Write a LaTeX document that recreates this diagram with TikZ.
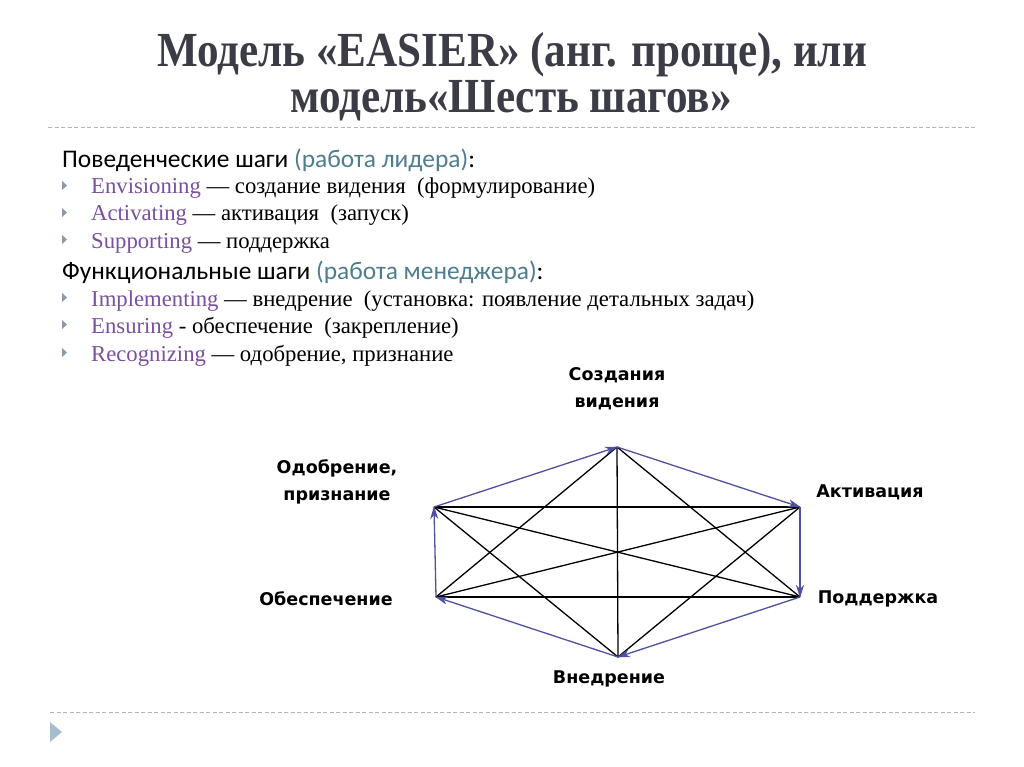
\documentclass[tikz,border=0pt]{standalone}
\usepackage{fontspec}
\usetikzlibrary{arrows.meta}
\setmainfont{Liberation Serif}
\newfontfamily\titlefont[FakeStretch=0.88]{Liberation Serif}
\newfontfamily\hdrfont{Carlito}
\newfontfamily\lblfont{DejaVu Sans}
\definecolor{titlecol}{HTML}{3C3C46}
\definecolor{engcol}{HTML}{7A50A0}
\definecolor{parcol}{HTML}{4E7D8E}
\definecolor{bulcol}{HTML}{8A9AAA}
\definecolor{dashcol}{HTML}{B4B4B4}
\definecolor{arrcol}{HTML}{5050A0}
\definecolor{markcol}{HTML}{A9BCCC}
\tikzset{
  ttl/.style={inner sep=0pt, anchor=base, text=titlecol, font=\titlefont\bfseries\fontsize{49}{54}\selectfont},
  hdr/.style={inner sep=0pt, anchor=base west, font=\hdrfont\fontsize{25.4}{28}\selectfont},
  itm/.style={inner sep=0pt, anchor=base west, font=\fontsize{22.7}{26}\selectfont},
  bul/.style={fill=bulcol, draw=none},
  sep/.style={draw=dashcol, line width=0.8pt, dash pattern=on 4pt off 2.5pt},
  lbl/.style={inner sep=0pt, align=center, font=\lblfont\bfseries\fontsize{17.5}{27}\selectfont},
  edge/.style={draw=black, line width=1.3pt},
  arr/.style={draw=arrcol, line width=1.3pt, -{Stealth[length=13pt,width=8pt,inset=4pt]}, shorten >=-1pt}
}
\begin{document}
\begin{tikzpicture}[x=1pt,y=-1pt]
\useasboundingbox (0,0) rectangle (1024,767);
\fill[white] (0,0) rectangle (1024,767);
% title
\node[ttl] (t1) at (512,67) {Модель «EASIER» (анг. проще), или};
\node[ttl] (t2) at (511,113) {модель«Шесть шагов»};
\draw[sep] (48,127) -- (975,127);
\draw[sep] (50,712) -- (975,712);
\fill[markcol] (50,722) -- (62,732) -- (50,742) -- cycle;
% text
\node[hdr] (h1) at (62,168) {Поведенческие шаги \textcolor{parcol}{(работа лидера)}:};
\node[hdr] (h2) at (62,279) {Функциональные шаги \textcolor{parcol}{(работа менеджера)}:};
\foreach \yy/\txt [count=\i] in {
  194/{\textcolor{engcol}{Envisioning} — создание видения\ \ (формулирование)},
  221/{\textcolor{engcol}{Activating} — активация\ \ (запуск)},
  248/{\textcolor{engcol}{Supporting} — поддержка},
  306/{\textcolor{engcol}{Implementing} — внедрение\ \ (установка: появление детальных задач)},
  333/{\textcolor{engcol}{Ensuring} - обеспечение\ \ (закрепление)},
  361/{\textcolor{engcol}{Recognizing} — одобрение, признание}}{
  \node[itm] (i\i) at (91,\yy) {\txt};
  \fill[bul] (62,\yy-13) -- (67,\yy-8.5) -- (62,\yy-4) -- cycle;
}
% diagram vertices
\coordinate (T) at (617,447);
\coordinate (A) at (800,507);
\coordinate (S) at (800,597);
\coordinate (B) at (618,657);
\coordinate (O) at (436,597);
\coordinate (R) at (434,507);
% black chords
\draw[edge] (R) -- (A);
\draw[edge] (O) -- (S);
\draw[edge] (T) -- (B);
\draw[edge] (R) -- (S);
\draw[edge] (O) -- (A);
\draw[edge] (T) -- (O);
\draw[edge] (T) -- (S);
\draw[edge] (B) -- (R);
\draw[edge] (B) -- (A);
% blue arrows
\draw[arr] (R) -- (T);
\draw[arr] (T) -- (A);
\draw[arr] (A) -- (S);
\draw[arr] (S) -- (B);
\draw[arr] (B) -- (O);
\draw[arr] (O) -- (R);
% labels
\node[lbl] (lT) at (617,389) {Создания\\видения};
\node[lbl] (lR) at (337,482) {Одобрение,\\признание};
\node[lbl] (lA) at (870,492) {Активация};
\node[lbl] (lO) at (326,599) {Обеспечение};
\node[lbl] (lS) at (878,599) {Поддержка};
\node[lbl] (lB) at (609,679) {Внедрение};
\end{tikzpicture}
\end{document}
